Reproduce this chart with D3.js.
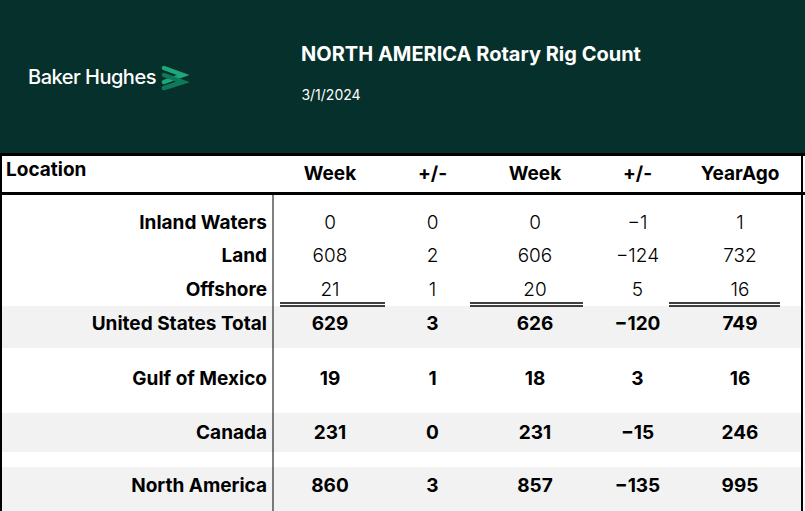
<!DOCTYPE html><html><head><meta charset="utf-8"><script src="https://cdn.jsdelivr.net/npm/d3@7"></script>
<style>body{margin:0;background:#fff}text{font-family:Inter,"Open Sans",sans-serif}</style></head><body><svg id="c" width="805" height="511"></svg>
<script>
const headers=["Week","+/-","Week","+/-","YearAgo"];
const rows=["Inland Waters","Land","Offshore","United States Total","Gulf of Mexico","Canada","North America"];
const values=[[0,0,0,-1,1],[608,2,606,-124,732],[21,1,20,5,16],[629,3,626,-120,749],[19,1,18,3,16],[231,0,231,-15,246],[860,3,857,-135,995]];
const bold=[false,false,false,true,true,true,true];
const shaded=[false,false,false,true,false,true,true];
const rowY=[222,255,289,323,378,432,485];
const svg=d3.select("#c");
const x=d3.scalePoint().domain(d3.range(5)).range([330,740]);
svg.append("rect").attr("width",805).attr("height",153).attr("fill","#06302b");
svg.append("text").attr("x",28).attr("y",84).attr("fill","#fff").attr("font-size",20).attr("font-weight",500).attr("letter-spacing",-0.5).text("Baker Hughes");
const lg=svg.append("g").attr("fill","none").attr("stroke-linecap","round").attr("stroke-width",4.5);
lg.append("path").attr("d","M164,68 L183,75 L164,82").attr("stroke","#1fa67a");
lg.append("path").attr("d","M164,75 L183,82 L164,88").attr("stroke","#0f7a5a");
svg.append("text").attr("x",471).attr("y",61).attr("text-anchor","middle").attr("fill","#fff").attr("font-size",20).attr("font-weight",700).text("NORTH AMERICA Rotary Rig Count");
svg.append("text").attr("x",331).attr("y",100).attr("text-anchor","middle").attr("fill","#fff").attr("font-size",14).text("3/1/2024");
// bands
const bands=[[306,348],[413,452],[467,511]];
svg.selectAll("rect.b").data(bands).join("rect").attr("x",0).attr("width",802).attr("y",d=>d[0]).attr("height",d=>d[1]-d[0]).attr("fill","#f2f2f2");
// borders
svg.append("rect").attr("x",0).attr("y",153).attr("width",805).attr("height",3).attr("fill","#000");
svg.append("rect").attr("x",0).attr("y",192).attr("width",805).attr("height",3).attr("fill","#000");
svg.append("line").attr("x1",1).attr("x2",1).attr("y1",153).attr("y2",511).attr("stroke","#000").attr("stroke-width",2);
svg.append("line").attr("x1",802).attr("x2",802).attr("y1",153).attr("y2",511).attr("stroke","#000").attr("stroke-width",2);
svg.append("line").attr("x1",273).attr("x2",273).attr("y1",195).attr("y2",511).attr("stroke","#000").attr("stroke-width",1);
svg.append("text").attr("x",6).attr("y",176).attr("font-size",19).attr("font-weight",700).text("Location");
svg.selectAll("text.h").data(headers).join("text").attr("x",(d,i)=>x(i)).attr("y",180).attr("text-anchor","middle").attr("font-size",19).attr("font-weight",700).text(d=>d);
// double underlines
[[280,385],[470,583],[669,780]].forEach(([a,b])=>{[303,306].forEach(yy=>svg.append("line").attr("x1",a).attr("x2",b).attr("y1",yy).attr("y2",yy).attr("stroke","#000").attr("stroke-width",1.3));});
rows.forEach((r,i)=>{
 svg.append("text").attr("x",267).attr("y",rowY[i]+7).attr("text-anchor","end").attr("font-size",19).attr("font-weight",700).text(r);
 values[i].forEach((v,j)=>svg.append("text").attr("x",x(j)).attr("y",rowY[i]+7).attr("text-anchor","middle").attr("font-size",19).attr("font-weight",bold[i]?700:300).text(d3.format("")(v).replace("-","-")));
});
</script></body></html>
